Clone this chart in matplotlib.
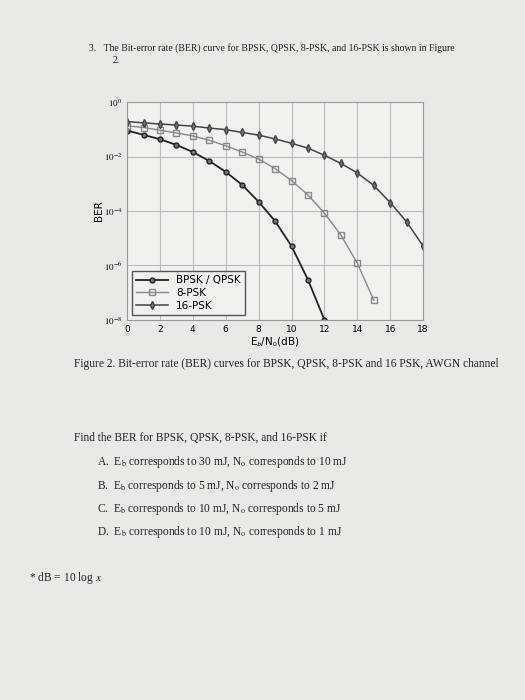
import matplotlib
matplotlib.use("Agg")
import matplotlib.pyplot as plt
import numpy as np

x_bpsk = list(range(0, 13))
ber_bpsk_exp = [-1.04, -1.2, -1.36, -1.57, -1.83, -2.16, -2.56, -3.04, -3.66, -4.37, -5.29, -6.53, -8.0]
x_8psk = list(range(0, 16))
ber_8psk_exp = [-0.87, -0.93, -1.03, -1.13, -1.24, -1.4, -1.6, -1.83, -2.09, -2.44, -2.88, -3.41, -4.08, -4.88, -5.92, -7.28]
x_16psk = list(range(0, 19))
ber_16psk_exp = [-0.71, -0.76, -0.8, -0.84, -0.88, -0.95, -1.01, -1.11, -1.21, -1.35, -1.51, -1.69, -1.95, -2.25, -2.6, -3.06, -3.69, -4.4, -5.29]
xticks = [0, 2, 4, 6, 8, 10, 12, 14, 16, 18]
yticks = [1e0, 1e-2, 1e-4, 1e-6, 1e-8]

plt.rcParams['mathtext.fontset'] = 'stix'
bg = "#e9e9e6"
fig = plt.figure(figsize=(5.25, 7), dpi=100, facecolor=bg)
ax = fig.add_axes([0.242, 0.543, 0.564, 0.311], facecolor="#f1f1ee")
ax.semilogy(x_bpsk, 10 ** np.array(ber_bpsk_exp), '-o', color="#222222", ms=3.5, mfc="#777777", lw=1.3, label="BPSK / QPSK")
ax.semilogy(x_8psk, 10 ** np.array(ber_8psk_exp), '-s', color="#888888", ms=5, mfc="none", lw=1.0, label="8-PSK")
ax.semilogy(x_16psk, 10 ** np.array(ber_16psk_exp), '-d', color="#444444", ms=4, mfc="#777777", lw=1.1, label="16-PSK")
ax.set_xlim(0, 18)
ax.set_ylim(1e-8, 1e0)
ax.set_xticks(xticks)
ax.set_yticks(yticks)
ax.set_yticklabels([r"$10^{0}$", r"$10^{-2}$", r"$10^{-4}$", r"$10^{-6}$", r"$10^{-8}$"])
ax.minorticks_off()
ax.grid(True, color="#bbbbbb", lw=0.8)
ax.tick_params(labelsize=6.5, length=0)
for s in ax.spines.values():
    s.set_color("#999999")
ax.set_xlabel(r"E$_\mathsf{b}$/N$_\mathsf{0}$(dB)", fontsize=7.5, labelpad=1)
ax.set_ylabel("BER", fontsize=7.5, labelpad=0)
ax.legend(loc="lower left", fontsize=7.5, frameon=True, fancybox=False, edgecolor="#555555",
          facecolor="#f1f1ee", framealpha=1, handlelength=3, borderpad=0.4, labelspacing=0.25)

ser = dict(family="Liberation Serif", color="#222222")
fig.text(0.17, 0.928, "3.   The Bit-error rate (BER) curve for BPSK, QPSK, 8-PSK, and 16-PSK is shown in Figure", fontsize=7, **ser)
fig.text(0.215, 0.91, "2.", fontsize=7, **ser)
fig.text(0.14, 0.475, "Figure 2. Bit-error rate (BER) curves for BPSK, QPSK, 8-PSK and 16 PSK, AWGN channel", fontsize=8.3, **ser)
fig.text(0.14, 0.37, "Find the BER for BPSK, QPSK, 8-PSK, and 16-PSK if", fontsize=8.3, **ser)
lines = [r"A.  E$_\mathrm{b}$ corresponds to 30 mJ, N$_\mathrm{o}$ corresponds to 10 mJ",
         r"B.  E$_\mathrm{b}$ corresponds to 5 mJ, N$_\mathrm{o}$ corresponds to 2 mJ",
         r"C.  E$_\mathrm{b}$ corresponds to 10 mJ, N$_\mathrm{o}$ corresponds to 5 mJ",
         r"D.  E$_\mathrm{b}$ corresponds to 10 mJ, N$_\mathrm{o}$ corresponds to 1 mJ"]
for i, t in enumerate(lines):
    fig.text(0.185, 0.335 - i * 0.033, t, fontsize=8.3, **ser)
fig.text(0.055, 0.17, r"* dB = 10 log $x$", fontsize=8.3, **ser)
fig.savefig("out.png", dpi=100, facecolor=bg)
